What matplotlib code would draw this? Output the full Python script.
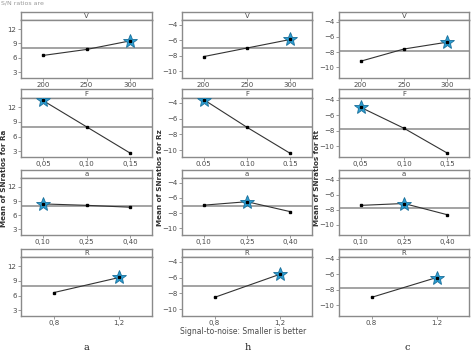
import matplotlib
matplotlib.use("Agg")
import matplotlib.pyplot as plt
import numpy as np

W, H = 474, 351

# ---- data ----
factors = ["V", "F", "a", "R"]

v_levels = ["200", "250", "300"]
f_levels_comma = ["0,05", "0,10", "0,15"]
f_levels_dot = ["0.05", "0.10", "0.15"]
a_levels = ["0,10", "0,25", "0,40"]
r_levels_comma = ["0,8", "1,2"]
r_levels_dot = ["0.8", "1.2"]

ra_V = [6.5, 7.75, 9.55]
ra_F = [13.4, 8.0, 2.6]
ra_a = [8.4, 8.1, 7.7]
ra_R = [6.6, 9.7]

rz_V = [-8.1, -7.0, -5.9]
rz_F = [-3.6, -7.1, -10.4]
rz_a = [-6.95, -6.5, -7.8]
rz_R = [-8.5, -5.6]

rt_V = [-9.2, -7.6, -6.7]
rt_F = [-5.0, -7.7, -10.9]
rt_a = [-7.45, -7.2, -8.7]
rt_R = [-9.0, -6.45]

ra_ticks = [3, 6, 9, 12]
rz_ticks = [-10, -8, -6, -4]
rt_ticks = [-10, -8, -6, -4]

columns = [
    dict(x0=21, x1=152, ylim=(1.8, 13.9), yticks=ra_ticks,
         ylabel="Mean of SNratios for Ra", ylab_x=4.5, caption="a", cap_x=86,
         levels=[v_levels, f_levels_comma, a_levels, r_levels_comma],
         values=[ra_V, ra_F, ra_a, ra_R]),
    dict(x0=182, x1=312, ylim=(-10.85, -3.4), yticks=rz_ticks,
         ylabel="Mean of SNratios for Rz", ylab_x=160, caption="h", cap_x=248,
         levels=[v_levels, f_levels_dot, a_levels, r_levels_comma],
         values=[rz_V, rz_F, rz_a, rz_R]),
    dict(x0=339, x1=469, ylim=(-11.4, -3.8), yticks=rt_ticks,
         ylabel="Mean of SNratios for Rt", ylab_x=317, caption="c", cap_x=407,
         levels=[v_levels, f_levels_comma, a_levels, r_levels_dot],
         values=[rt_V, rt_F, rt_a, rt_R]),
]

# rows: (header top, header bottom / plot top, plot bottom) in pixels
rows = [(12, 20, 78), (89, 98, 157), (170, 178, 235), (249, 257, 316)]

GRAY = "#8a8a8a"
TXT = "#4a4a4a"

fig = plt.figure(figsize=(W / 100, H / 100), dpi=100)
fig.patch.set_facecolor("white")


def fx(px):
    return px / W


def fy(py):
    return 1 - py / H


for col in columns:
    vals_all = col["values"]
    grand = np.mean([np.mean(v) for v in vals_all])
    for r, (ht, pt, pb) in enumerate(rows):
        vals = vals_all[r]
        levels = col["levels"][r]
        n = len(vals)
        # header strip
        hax = fig.add_axes([fx(col["x0"]), fy(pt), fx(col["x1"] - col["x0"]), (pt - ht) / H])
        hax.set_xticks([]); hax.set_yticks([])
        for s in hax.spines.values():
            s.set_color(GRAY); s.set_linewidth(1.0)
        hax.text(0.5, 0.45, factors[r], ha="center", va="center", fontsize=5,
                 color=TXT, transform=hax.transAxes)
        # plot area
        ax = fig.add_axes([fx(col["x0"]), fy(pb), fx(col["x1"] - col["x0"]), (pb - pt) / H])
        for s in ax.spines.values():
            s.set_color(GRAY); s.set_linewidth(1.0)
        x = np.arange(n)
        ax.axhline(grand, color=GRAY, lw=1.1, zorder=1)
        ax.plot(x, vals, color="#333333", lw=0.8, zorder=2)
        k = int(np.argmax(vals))
        ax.plot([x[k]], [vals[k]], marker="*", markersize=10.5, color="#2b9fd4",
                markeredgecolor="#1a6e99", markeredgewidth=0.6, zorder=3, linestyle="none")
        ax.plot(x, vals, marker="s", markersize=2.0, color="black", linestyle="none", zorder=4)
        ax.set_xlim(-0.5, n - 0.5)
        ax.set_ylim(*col["ylim"])
        ax.set_xticks(x)
        ax.set_xticklabels(levels)
        ax.set_yticks(col["yticks"])
        ax.tick_params(axis="both", labelsize=5, colors=GRAY, labelcolor=TXT,
                       length=2, width=0.6, pad=1.2)
    fig.text(fx(col["ylab_x"]), fy(178), col["ylabel"], rotation=90, ha="center",
             va="center", fontsize=5.2, fontweight="bold", color="#333333")
    fig.text(fx(col["cap_x"]), fy(348), col["caption"], ha="center", va="center",
             fontsize=7, family="DejaVu Serif", color="#222222")

fig.text(fx(243), fy(332), "Signal-to-noise: Smaller is better", ha="center", va="center",
         fontsize=5.5, color=TXT)
fig.text(fx(1), fy(0.5), "S/N ratios are", ha="left", va="top", fontsize=4.5, color="#999999")

fig.savefig("out.png", dpi=100, facecolor="white")
